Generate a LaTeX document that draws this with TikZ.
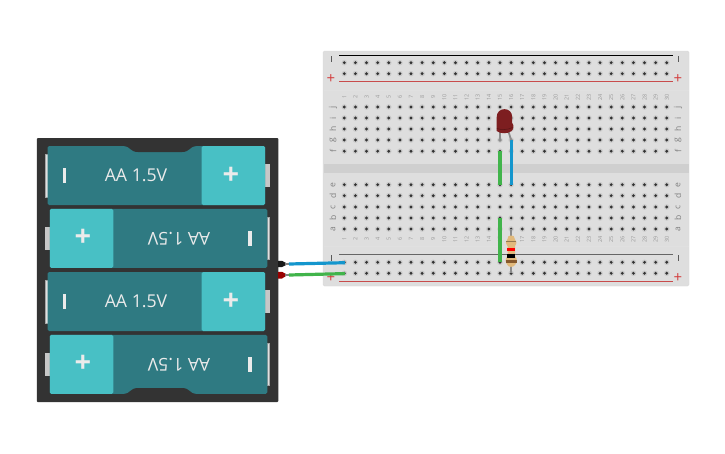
\documentclass[tikz,border=0pt]{standalone}
\usepackage{fontspec}
\setmainfont{Open Sans}
\usetikzlibrary{positioning}
\definecolor{holder}{RGB}{51,51,51}
\definecolor{celldark}{RGB}{47,122,130}
\definecolor{celllight}{RGB}{72,192,197}
\definecolor{board}{RGB}{222,222,222}
\definecolor{boardgap}{RGB}{207,207,207}
\definecolor{holehalo}{RGB}{203,203,203}
\definecolor{wireblue}{RGB}{20,150,205}
\definecolor{wiregreen}{RGB}{65,180,75}
\definecolor{railred}{RGB}{200,75,75}
\definecolor{ledred}{RGB}{125,30,32}
\definecolor{skin}{RGB}{226,186,125}
\tikzset{
cell/.style = {rectangle, fill=celldark, rounded corners=1.5pt, minimum width=217.5pt, minimum height=59pt, inner sep=0pt},
plusend/.style = {rectangle, fill=celllight, minimum width=63.5pt, minimum height=59pt, inner sep=0pt, rounded corners=1.5pt},
celltext/.style = {text=white!92!black, font=\fontsize{17.7}{18}\selectfont, inner sep=0pt},
cellmark/.style = {text=white!92!black, font=\fontsize{29}{29}\selectfont\bfseries, inner sep=0pt},
cellbar/.style = {fill=white!92!black, minimum width=3.5pt, minimum height=15pt, inner sep=0pt},
tabshort/.style = {fill=white!78!black, minimum width=5pt, minimum height=23.5pt, inner sep=0pt},
tablong/.style = {draw=white!65!black, line width=0.5pt, fill=white!88!black, minimum width=2.5pt, minimum height=42.5pt, inner sep=0pt},
rowlabel/.style = {text=black!50, font=\fontsize{8.5}{8.5}\selectfont, rotate=90, inner sep=0pt},
collabel/.style = {text=black!40, font=\fontsize{5.5}{5.5}\selectfont, rotate=90, inner sep=0pt},
railminus/.style = {fill=black!65, minimum width=1pt, minimum height=6pt, inner sep=0pt},
railplus/.style = {text=railred!80!red, font=\fontsize{15}{15}\selectfont, inner sep=0pt},
jumper/.style = {line width=3.2pt},
lead/.style = {line width=1.8pt, draw=black!45}
}
\begin{document}
\begin{tikzpicture}[x=1pt,y=-1pt]
    \useasboundingbox [fill=white] (0,0) rectangle (725,453);

    % battery holder
    \node [rectangle, fill=holder, rounded corners=1pt, minimum width=241.5pt, minimum height=264pt, inner sep=0pt] (holder) at (157.5,270) {};

    % cells, plus end on the right
    \foreach \n/\cy in {a/175.5,c/301.5}{
        \node [tablong] (left\n) at (46.5,\cy) {};
        \node [tabshort] (right\n) at (267.5,\cy) {};
        \node [cell] (cell\n) at (156.3,\cy) {};
        \node [plusend, anchor=east] (plus\n) at (cell\n.east) {};
        \node [celltext] (text\n) at (136,\cy) {AA 1.5V};
        \node [cellbar] (bar\n) at (64.5,\cy) {};
        \node [cellmark] (mark\n) at (231,\cy) {+};
    }
    % cells, plus end on the left
    \foreach \n/\cy in {b/238.3,d/364.3}{
        \node [tabshort] (left\n) at (47.5,\cy) {};
        \node [tablong] (right\n) at (268.3,\cy) {};
        \node [cell] (cell\n) at (158.5,\cy) {};
        \node [plusend, anchor=west] (plus\n) at (cell\n.west) {};
        \node [celltext, rotate=180] (text\n) at (179,\cy) {AA 1.5V};
        \node [cellbar] (bar\n) at (250,\cy) {};
        \node [cellmark] (mark\n) at (83,\cy) {+};
    }
    \fill [holder] (124,146) .. controls (130,146) and (130,152) .. (138,152) -- (182,152) .. controls (190,152) and (190,146) .. (196,146) -- cycle;
    \fill [holder] (124,394) .. controls (130,394) and (130,388) .. (138,388) -- (182,388) .. controls (190,388) and (190,394) .. (196,394) -- cycle;

    % breadboard
    \node [rectangle, draw=black!15, fill=board, rounded corners=1.5pt, minimum width=366pt, minimum height=235pt, inner sep=0pt] (board) at (506,168.5) {};
    \fill [boardgap] (323.5,164) rectangle (688.5,173);
    \draw [black!12, line width=0.8pt] (323.5,90) -- (688.5,90);
    \draw [black!12, line width=0.8pt] (323.5,246) -- (688.5,246);

    % holes
    \foreach \cy in {62.7,73.7,107,118,129,140,151.2,184.7,195.7,207,218,229,262.3,273.3}{
        \foreach \i in {1,...,30}{
            \fill [holehalo] ({344.3+(\i-1)*11.12},\cy) circle (2.8pt);
            \fill [black!80] ({344.3+(\i-1)*11.12},\cy) circle (1.6pt);
        }
    }
    \foreach \i in {1,...,30}{
        \node [collabel] at ({344.3+(\i-1)*11.12},97) {\i};
        \node [collabel] at ({344.3+(\i-1)*11.12},239) {\i};
    }
    \foreach \l/\cy in {j/107,i/118,h/129,g/140,f/151.2,e/184.7,d/195.7,c/207,b/218,a/229}{
        \node [rowlabel] at (333,\cy) {\l};
        \node [rowlabel] at (678,\cy) {\l};
    }

    % rails
    \draw [black, line width=0.9pt] (339,55) -- (673,55);
    \draw [draw=railred, line width=1.2pt] (339,81.7) -- (673,81.7);
    \draw [black!60, line width=1.1pt] (339,254.7) -- (673,254.7);
    \draw [draw=railred, line width=1pt] (339,281.7) -- (673,281.7);
    \foreach \px in {331,678}{
        \node [railminus] at (\px,59.3) {};
        \node [railplus] at (\px,79.5) {+};
        \node [railminus] at (\px,258) {};
        \node [railplus] at (\px,278) {+};
    }

    % wire ends
    \coordinate (negout) at (287,264);
    \coordinate (posout) at (287,275);
    \coordinate (negrail) at (345,262.7);
    \coordinate (posrail) at (345,273.6);
    \coordinate (g1) at (500,151.2);
    \coordinate (g2) at (500,184.7);
    \coordinate (g3) at (500,218);
    \coordinate (g4) at (500,262.3);
    \coordinate (b1) at (511.1,140);
    \coordinate (b2) at (511.1,184.7);
    \coordinate (r1) at (511.1,229);
    \coordinate (r2) at (511.1,273.3);

    % battery leads
    \fill [black!90] (278,260.8) -- (282,260.8) -- (286,263) -- (286,265) -- (282,267) -- (278,267) -- cycle;
    \fill [red!60!black] (278,271.8) -- (282,271.8) -- (286,274) -- (286,276) -- (282,278.5) -- (278,278.5) -- cycle;
    \draw [black!50, line width=2.5pt] (285,264) -- (289,264);
    \draw [black!50, line width=2.5pt] (285,275) -- (289,275);
    \draw [wireblue, jumper] (negout) ++(2,0) -- (negrail);
    \draw [wiregreen, jumper] (posout) ++(2,0) -- (posrail);

    % resistor
    \draw [lead] (r1) -- (r2);
    \fill [skin] (507.5,239) .. controls (507.5,236) and (509,235.5) .. (511.1,235.5) .. controls (513.2,235.5) and (514.8,236) .. (514.8,239) .. controls (517,241) and (517,243) .. (515,246) -- (515,256) .. controls (517.5,259) and (517.5,262) .. (515,265) .. controls (513.5,267.5) and (508.5,267.5) .. (507.5,265) .. controls (505,262) and (505,259) .. (507.5,256) -- (507.5,246) .. controls (505.5,243) and (505.5,241) .. (507.5,239) -- cycle;
    \fill [black!35!skin] (506.3,240.6) rectangle (516.2,241.8);
    \fill [red] (507.3,248) rectangle (515.2,251);
    \fill [black] (507.3,254) rectangle (515.2,257.7);
    \fill [brown!70!black] (505.8,260) rectangle (516.6,262.7);

    % jumpers
    \draw [wiregreen, jumper] (g1) -- (g2);
    \draw [wiregreen, jumper] (g3) -- (g4);
    \draw [wireblue, jumper] (b1) -- (b2);

    % led
    \draw [lead] (500,130) -- (500,141);
    \draw [lead] (508,130) -- (b1);
    \fill [ledred] (496.7,131) -- (496.7,117) .. controls (496.7,106.5) and (512.2,106.5) .. (512.2,117) -- (512.2,123) .. controls (514,125) and (514,129) .. (511.5,131) .. controls (508,134) and (500,134) .. (496.7,131) -- cycle;
    \draw [black!30!ledred, line width=0.5pt] (496.9,128.5) .. controls (501,130) and (508,130) .. (512.5,127.5);
\end{tikzpicture}
\end{document}
